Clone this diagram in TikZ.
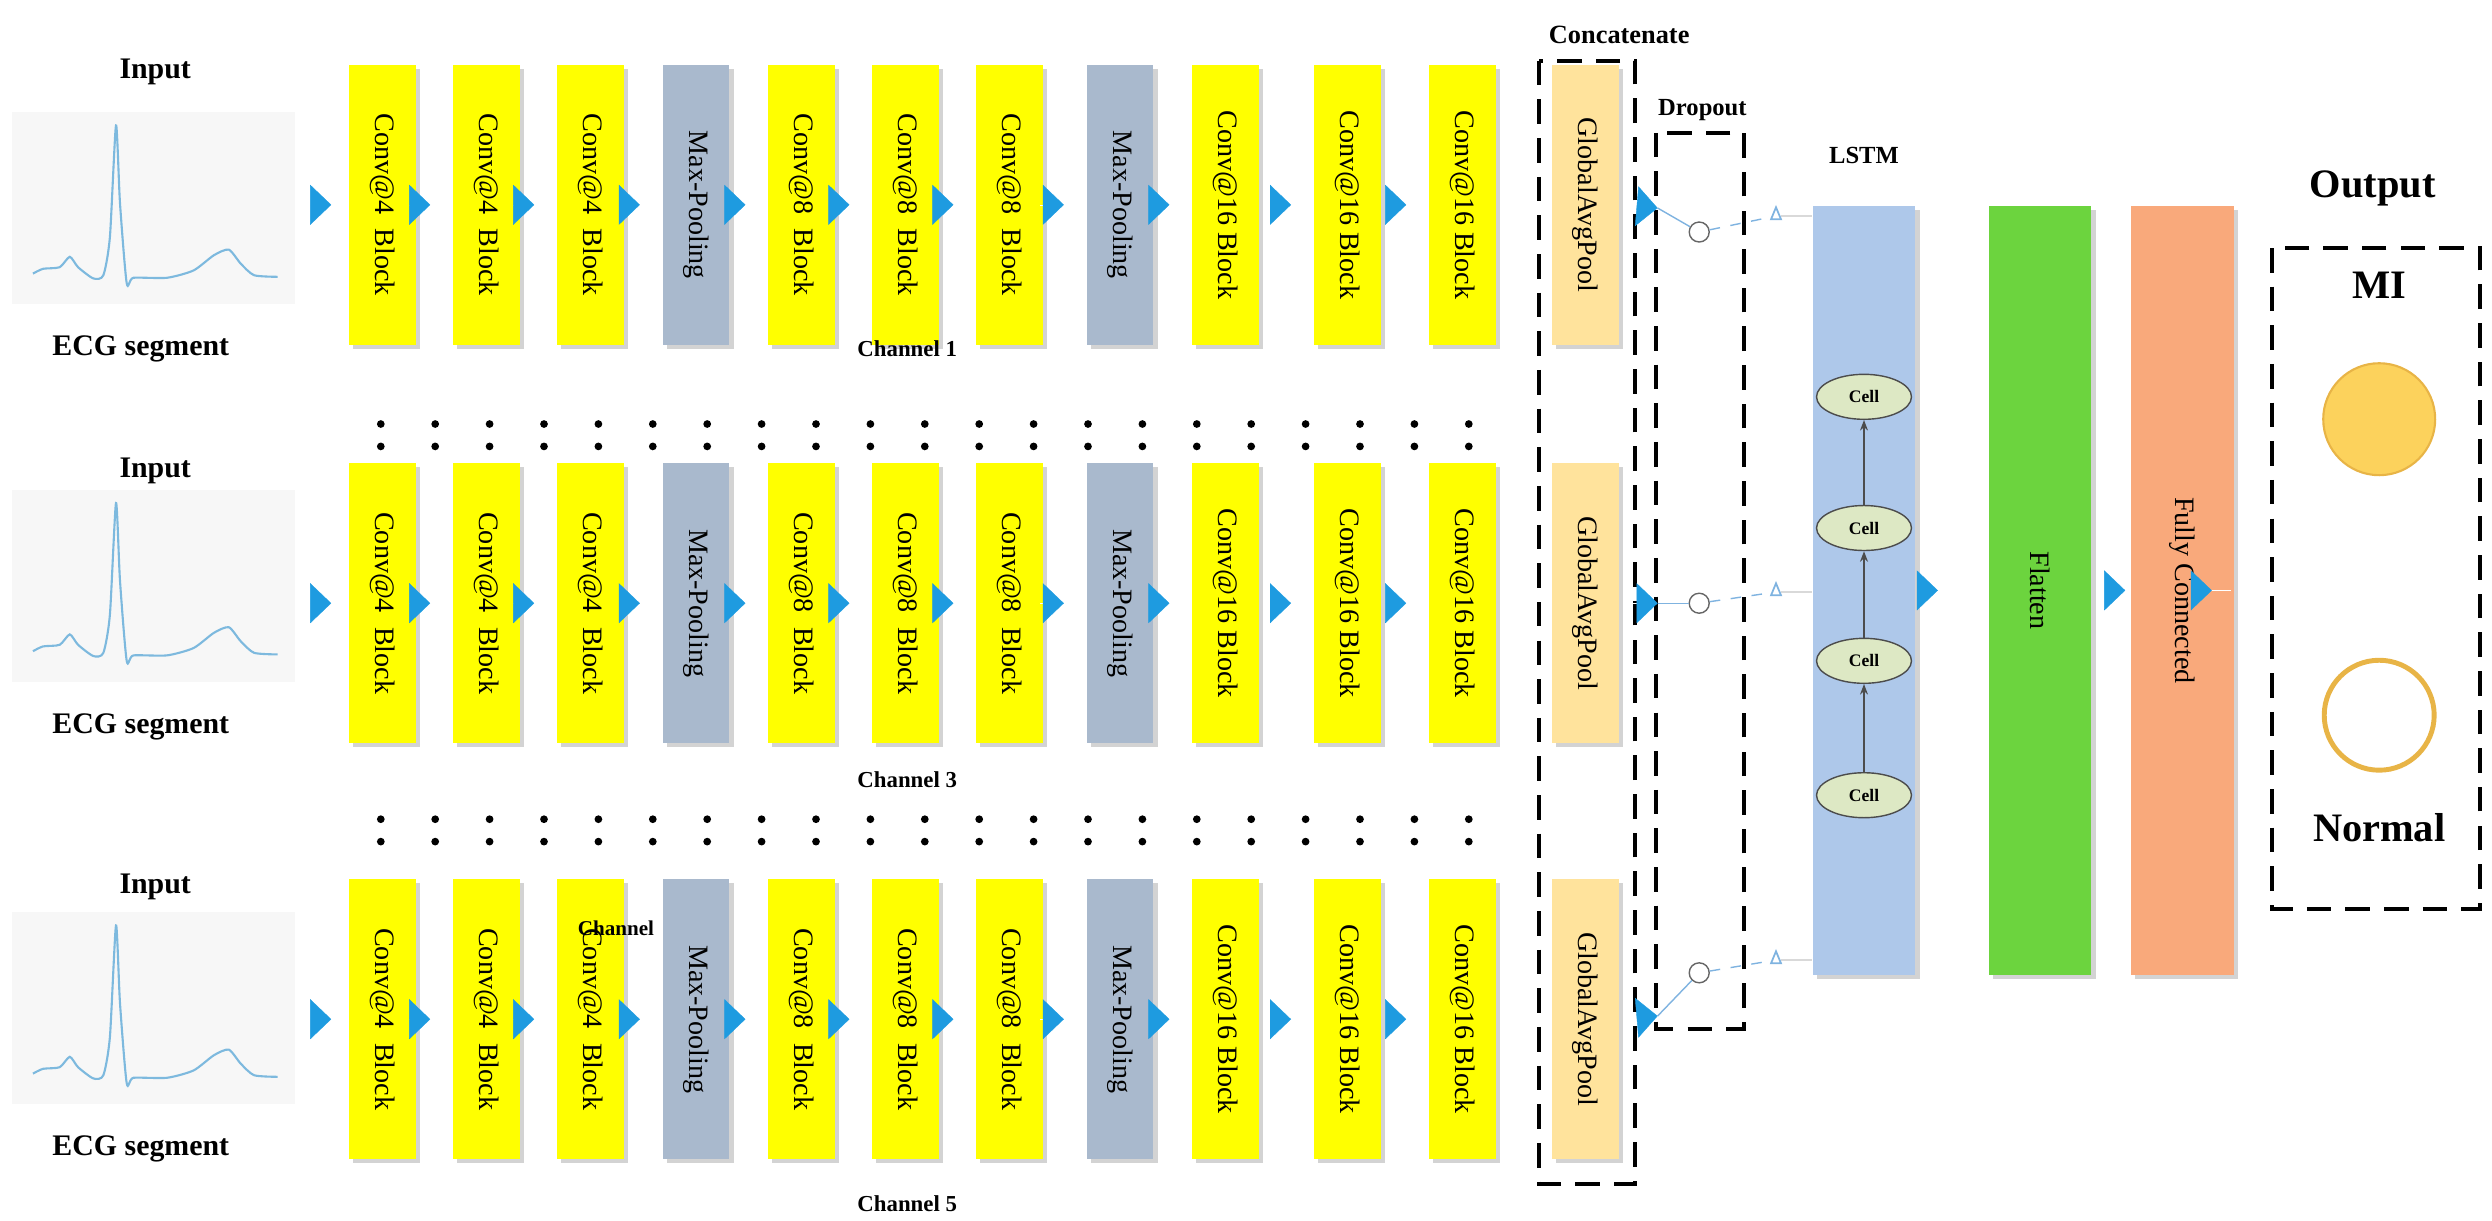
\documentclass[tikz,border=0pt]{standalone}
\usepackage{fontspec}
\setmainfont{Liberation Serif}
\usetikzlibrary{arrows.meta,shapes.geometric,shadows}
\definecolor{convyellow}{HTML}{FFFF00}
\definecolor{poolgray}{HTML}{A9B9CD}
\definecolor{gapcream}{HTML}{FFE39C}
\definecolor{flowblue}{HTML}{1E9BE0}
\definecolor{wireblue}{HTML}{7FB3E0}
\definecolor{lstmblue}{HTML}{AEC8EA}
\definecolor{cellgreen}{HTML}{DDE8C4}
\definecolor{flatgreen}{HTML}{6CD43E}
\definecolor{fcorange}{HTML}{F9A97B}
\definecolor{migold}{HTML}{FCD25C}
\definecolor{ringgold}{HTML}{E8B446}
\definecolor{ecgbg}{HTML}{F7F7F7}
\definecolor{ecgline}{HTML}{7DB9DE}

\begin{document}
\begin{tikzpicture}[x=0.016cm,y=-0.016cm]
\tikzstyle{block} = [rectangle, minimum width=0.67cm, minimum height=2.8cm, inner sep=0pt, font=\fontsize{8}{9}\selectfont, drop shadow={shadow xshift=1.2pt, shadow yshift=-1.2pt, opacity=0.35}]
\tikzstyle{conv} = [block, fill=convyellow]
\tikzstyle{pool} = [block, fill=poolgray]
\tikzstyle{gap} = [block, fill=gapcream]
\tikzstyle{tall} = [rectangle, minimum width=1.03cm, minimum height=7.7cm, inner sep=0pt, font=\fontsize{8}{9}\selectfont, drop shadow={shadow xshift=1.2pt, shadow yshift=-1.2pt, opacity=0.35}]
\tikzstyle{title} = [font=\fontsize{8.5}{10}\selectfont\bfseries]
\tikzstyle{small} = [font=\fontsize{6.5}{8}\selectfont\bfseries]
\tikzstyle{flow} = [white, line width=0.1pt, -{Triangle[length=0.21cm,width=0.4cm,color=flowblue,fill=flowblue]}, shorten <=1pt, shorten >=0.11cm]
\tikzstyle{wire} = [wireblue, line width=0.4pt]
\tikzstyle{dashbox} = [draw=black, line width=1.1pt, dash pattern=on 7pt off 4pt]
\tikzstyle{cell} = [ellipse, draw=black!70, fill=cellgreen, minimum width=0.95cm, minimum height=0.45cm, inner sep=0pt, font=\fontsize{5}{6}\selectfont\bfseries]
\useasboundingbox (0,0) rectangle (1557.5,762.5);

% inputs and rows
\foreach \r/\y/\cy in {1/128/130, 2/377/366, 3/637/630} {
    \node[title] (in\r) at (97,\y-83) {Input};
    \node[rectangle, fill=ecgbg, minimum width=2.83cm, minimum height=1.92cm] (ecg\r) at (96,\cy) {};
    \draw[ecgline, line width=0.6pt] plot[smooth, tension=0.4] coordinates {
        (8+12.6,\cy-60+101) (8+18.9,\cy-60+98) (8+29.3,\cy-60+97) (8+35.6,\cy-60+90.5)
        (8+40.8,\cy-60+97) (8+50.3,\cy-60+104) (8+56.6,\cy-60+102) (8+60.7,\cy-60+78)
        (8+64.5,\cy-60+8.4) (8+67,\cy-60+57) (8+71.2,\cy-60+107) (8+75.4,\cy-60+103.6)
        (8+96.4,\cy-60+103.6) (8+113,\cy-60+99) (8+125.7,\cy-60+89.5) (8+135,\cy-60+86)
        (8+142.4,\cy-60+94.7) (8+150.8,\cy-60+102) (8+165.5,\cy-60+103)};
    \node[title] (seg\r) at (88,\cy+88) {ECG segment};
}

\foreach \r/\y in {1/128, 2/377, 3/637} {
    \foreach \i/\x/\s/\t in {1/239/conv/{Conv@4\ \ Block}, 2/304/conv/{Conv@4\ \ Block},
        3/369/conv/{Conv@4\ \ Block}, 4/435/pool/{Max-Pooling}, 5/501/conv/{Conv@8\ \ Block},
        6/566/conv/{Conv@8\ \ Block}, 7/631/conv/{Conv@8\ \ Block}, 8/700/pool/{Max-Pooling},
        9/766/conv/{Conv@16 Block}, 10/842/conv/{Conv@16 Block}, 11/914/conv/{Conv@16 Block}} {
        \node[\s] (b\r-\i) at (\x,\y) {\rotatebox{-90}{\t}};
    }
    \node[gap] (g\r) at (991,\y) {\rotatebox{-90}{GlobalAvgPool}};
    \draw[flow, shorten <=6pt, shorten >=0.17cm] (ecg\r.east |- b\r-1) -- (b\r-1.west);
    \foreach \i [count=\j from 2] in {1,...,10} {
        \draw[flow] (b\r-\i.east) -- ([xshift=-0.11cm]b\r-\i.east -| b\r-\j.west);
    }
}
\node[small, font=\fontsize{6}{7}\selectfont\bfseries] (chx) at (385,580) {Channel};
\node[small] (ch1) at (567,218) {Channel 1};
\node[small] (ch3) at (567,487) {Channel 3};
\node[small] (ch5) at (567,752) {Channel 5};

% dots between channels
\foreach \x in {238,272,...,930} {
    \fill (\x,265) circle (1.1pt) (\x,279) circle (1.1pt);
}
\foreach \x in {238,272,...,920} {
    \fill (\x,512) circle (1.1pt) (\x,526) circle (1.1pt);
}

% concatenate and dropout
\draw[dashbox] (962,38) rectangle (1022,740);
\node[title, font=\fontsize{7.5}{9}\selectfont\bfseries] (cat) at (1012,22) {Concatenate};
\draw[dashbox] (1035,83) rectangle (1090,643);
\node[small, font=\fontsize{7}{8}\selectfont\bfseries] (drop) at (1064,69) {Dropout};
\node[small, font=\fontsize{7}{8}\selectfont\bfseries] (lstmlbl) at (1165,97) {LSTM};

\path
    (1165,369) node[tall, fill=lstmblue] (lstm) {}
    (1275,369) node[tall, fill=flatgreen] (flat) {\rotatebox{-90}{Flatten}}
    (1364,369) node[tall, fill=fcorange] (fc) {\rotatebox{-90}{Fully Connected}};

\foreach \r/\cy/\dy/\sy in {1/130/145/135, 2/377/377/370, 3/635/608/600} {
    \coordinate (t\r) at (1036,\cy);
    \node[circle, draw=black!60, fill=white, minimum size=0.2cm, inner sep=0pt] (d\r) at (1062,\dy) {};
    \node[isosceles triangle, shape border rotate=90, draw=wireblue, minimum size=0.1cm, inner sep=0pt, line width=0.5pt] (s\r) at (1110,\sy) {};
    \draw[wire] (t\r) -- (d\r);
    \draw[flow, shorten >=0pt] (g\r.east) -- (t\r);
    \draw[wire, dashed] (d\r) -- (s\r);
    \draw[wire, black!15] (s\r) -- (lstm.west |- s\r);
}

% lstm cells
\foreach \c/\y in {1/497, 2/413, 3/330, 4/248} {
    \node[cell] (cell\c) at (1165,\y) {Cell};
}
\foreach \c [count=\n from 2] in {1,2,3} {
    \draw[black!70, line width=0.5pt, -{Stealth[length=3pt]}] (cell\c) -- (cell\n);
}

\draw[flow, shorten >=0.5cm] (lstm.east) -- (flat.west);
\draw[flow, shorten >=0.05cm] (flat.east) -- (fc.west);

% output
\draw[dashbox] (1420,155) rectangle (1550,568);
\node[font=\fontsize{11.5}{13}\selectfont\bfseries] (outl) at (1483,118) {Output};
\node[font=\fontsize{11.5}{13}\selectfont\bfseries] (mi) at (1487,178) {MI};
\node[circle, fill=migold, draw=ringgold, line width=0.6pt, minimum size=1.12cm] (pmi) at (1487,262) {};
\node[circle, fill=white, draw=ringgold, line width=1.4pt, minimum size=1.1cm] (pnorm) at (1487,447) {};
\node[font=\fontsize{11.5}{13}\selectfont\bfseries] (norm) at (1487,517) {Normal};
\draw[flow, shorten >=1.1cm] (fc.east) -- (pnorm.west |- fc.east);
\end{tikzpicture}
\end{document}
